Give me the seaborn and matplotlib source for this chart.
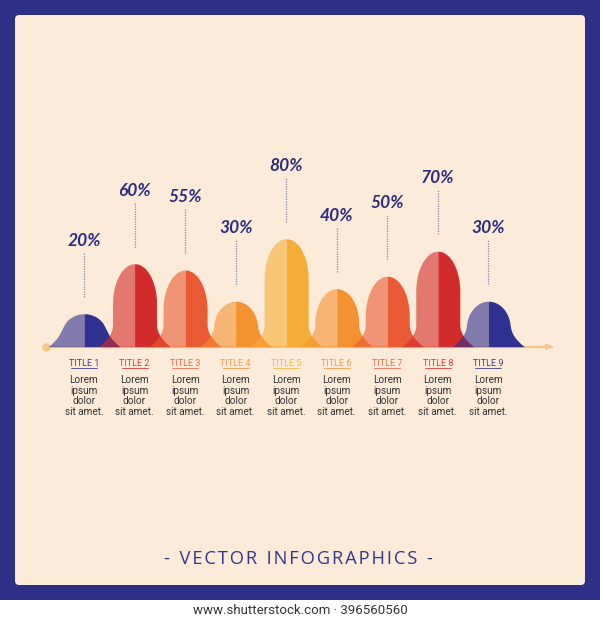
import numpy as np
import matplotlib
matplotlib.use("Agg")
import matplotlib.pyplot as plt
from matplotlib.patches import Rectangle, FancyBboxPatch
import seaborn as sns

# ---- data -------------------------------------------------------------
values = [20, 60, 55, 30, 80, 40, 50, 70, 30]
titles = [f"TITLE {i}" for i in range(1, 10)]
body_text = "Lorem\nipsum\ndolor\nsit amet."
hump_colors = ["#2E3190", "#D22B2B", "#EA5A35", "#F39231", "#F4AE35",
               "#F39231", "#EA5A35", "#D22B2B", "#2E3190"]
title_colors = ["#3F3F92", "#D63A3A", "#EE6A4A", "#F29C45", "#F4B445",
                "#F29C45", "#EE6A4A", "#D63A3A", "#3F3F92"]

NAVY = "#2E3087"
CREAM = "#FCEBD8"
LABEL = "#2B2C7E"
SMALL_FONT = ["Liberation Sans Narrow", "Roboto", "DejaVu Sans"]

sns.set_theme(style="white")
plt.rcParams["font.family"] = ["Lato", "DejaVu Sans"]

W, H = 600, 620
fig = plt.figure(figsize=(W / 100, H / 100), dpi=100, facecolor="white")

# frame: navy border + rounded cream panel
fig.patches.append(Rectangle((0, 20 / H), 1, 600 / H, transform=fig.transFigure,
                             facecolor=NAVY, edgecolor="none", zorder=-2))
fig.patches.append(FancyBboxPatch((15 / W, 35 / H), 570 / W, 570 / H,
                                  boxstyle="round,pad=0,rounding_size=0.007",
                                  transform=fig.transFigure, facecolor=CREAM,
                                  edgecolor="none", zorder=-1))

# ---- main axes (x = category index, y = value units) -------------------
STEP = 50.54      # px per category
PXU = 1.25        # px per value unit
X0, BASE = 84, 346.7
ax_l, ax_r, ax_t, ax_b = 30, 570, 140, 430
ax = fig.add_axes([ax_l / W, (H - ax_b) / H, (ax_r - ax_l) / W, (ax_b - ax_t) / H])
ax.set_zorder(2)
ax.set_xlim((ax_l - X0) / STEP, (ax_r - X0) / STEP)
ax.set_ylim((BASE - ax_b) / PXU, (BASE - ax_t) / PXU)
ax.axis("off")
ax.patch.set_alpha(0)

OFFSET = 6.4  # hump height = value + offset


def half_width(h_px, ys):
    # rounded dome on top, flared feet at the base (all in px)
    d = h_px - ys
    rv = min(40.0, 0.6 * h_px)
    top = 22 * np.sqrt(1 - np.clip((rv - d) / rv, 0, 1) ** 2)
    flare = 14 * np.clip(1 - ys / 22, 0, 1) ** 2
    return top + flare


# baseline arrow
x_start, x_end = (46 - X0) / STEP, (553 - X0) / STEP
ax.plot([x_start, x_end], [0, 0], color="#F5C58E", lw=1.6, zorder=1,
        solid_capstyle="butt")
ax.plot([x_start], [0], "o", color="#F5C58E", ms=5, zorder=1)
ax.annotate("", xy=(x_end + 0.05, 0), xytext=(x_end - 0.3, 0),
            arrowprops=dict(arrowstyle="-|>", color="#F5C58E", lw=1.2,
                            mutation_scale=9), zorder=1)

for i, (v, c) in enumerate(zip(values, hump_colors)):
    h_data = v + OFFSET
    h_px = h_data * PXU
    ys = np.linspace(0, h_px, 600)
    hw = half_width(h_px, ys) / STEP
    yd = ys / PXU
    ax.fill_betweenx(yd, i - hw, i, color=c, alpha=0.6, lw=0, zorder=2 + i)
    ax.fill_betweenx(yd, i, i + hw, color=c, alpha=1.0, lw=0, zorder=2 + i)

    # dotted leader + percentage
    ax.plot([i, i], [h_data + 17 / PXU, h_data + 62 / PXU], color="#8585A5",
            lw=0.9, ls=(0, (1, 1)), zorder=20)
    ax.text(i, h_data + 73 / PXU, f"{v}%", ha="center", va="center",
            fontsize=12.5, fontweight="bold", fontstyle="italic",
            color=LABEL, zorder=21)

    # title + underline + body
    ax.text(i, -16.6 / PXU, titles[i], ha="center", va="center", fontsize=6.5,
            color=title_colors[i], family=SMALL_FONT)
    ax.plot([i - 13 / STEP, i + 13 / STEP], [-21.3 / PXU, -21.3 / PXU],
            color=title_colors[i], lw=0.6)
    ax.text(i, -49.3 / PXU, body_text, ha="center", va="center", fontsize=7.2,
            linespacing=1.07, color="#333333", family=SMALL_FONT)

# ---- footer texts -------------------------------------------------------
heading = "-  " + "\u200a".join("VECTOR") + "  " + "\u200a".join("INFOGRAPHICS") + "  -"
fig.text(0.497, (H - 559) / H, heading,
         ha="center", va="center", fontsize=13.2, color="#34368C",
         family=["Open Sans", "DejaVu Sans"])
fig.text(0.5, (H - 610) / H, "www.shutterstock.com \u00b7 396560560",
         ha="center", va="center", fontsize=9.5, color="#333333",
         family=SMALL_FONT)

fig.savefig("out.png", dpi=100, facecolor="white")
